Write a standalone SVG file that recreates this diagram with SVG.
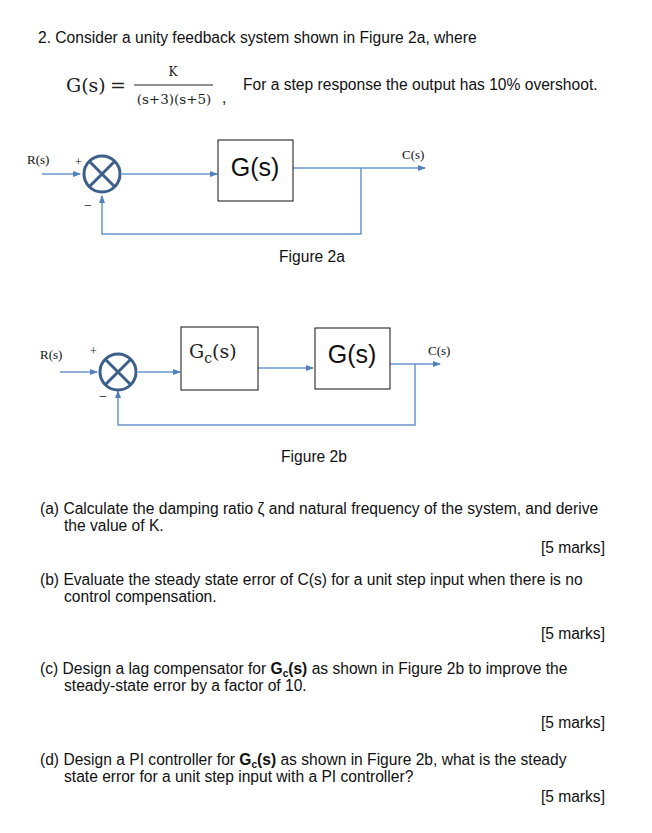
<svg xmlns="http://www.w3.org/2000/svg" width="652" height="833" viewBox="0 0 652 833">
<defs>
<marker id="ar" markerWidth="8" markerHeight="8" refX="7" refY="4" orient="auto" markerUnits="userSpaceOnUse"><path d="M0,1 L8,4 L0,7 Z" fill="#4F81BD"/></marker>
<style>
.t{font-family:"Liberation Sans",Arial,sans-serif;fill:#111}
.s{font-family:"Liberation Serif","Times New Roman",serif;fill:#111}
.m{font-family:"DejaVu Serif","Liberation Serif",serif;fill:#222}
.w{stroke:#6A96CB;stroke-width:1.5;fill:none}
.box{fill:#fff;stroke:#111;stroke-width:1}
.sum{fill:#fff;stroke:#3C5F8C;stroke-width:3}
</style>
</defs>
<rect width="652" height="833" fill="#fff"/>
<g font-size="15.6">
<text class="t" x="38" y="43">2.  Consider a unity feedback system shown in Figure 2a, where</text>
<text class="t" x="222" y="103">,</text>
<text class="t" x="243" y="90">For a step response the output has 10% overshoot.</text>
<text class="t" x="312" y="262" text-anchor="middle">Figure 2a</text>
<text class="t" x="314" y="462" text-anchor="middle">Figure 2b</text>
<text class="t" x="40" y="514">(a) Calculate the damping ratio ζ and natural frequency of the system, and derive</text>
<text class="t" x="64" y="531">the value of K.</text>
<text class="t" x="605" y="553" text-anchor="end">[5 marks]</text>
<text class="t" x="40" y="585">(b) Evaluate the steady state error of C(s) for a unit step input when there is no</text>
<text class="t" x="64" y="602">control compensation.</text>
<text class="t" x="605" y="639" text-anchor="end">[5 marks]</text>
<text class="t" x="40" y="674">(c) Design a lag compensator for <tspan font-weight="bold">G</tspan><tspan font-weight="bold" font-size="10" dy="3">c</tspan><tspan font-weight="bold" dy="-3">(s)</tspan> as shown in Figure 2b to improve the</text>
<text class="t" x="64" y="691">steady-state error by a factor of 10.</text>
<text class="t" x="605" y="728" text-anchor="end">[5 marks]</text>
<text class="t" x="40" y="765">(d) Design a PI controller for <tspan font-weight="bold">G</tspan><tspan font-weight="bold" font-size="10" dy="3">c</tspan><tspan font-weight="bold" dy="-3">(s)</tspan> as shown in Figure 2b, what is the steady</text>
<text class="t" x="64" y="782">state error for a unit step input with a PI controller?</text>
<text class="t" x="605" y="802" text-anchor="end">[5 marks]</text>
</g>
<text class="m" x="66" y="92" font-size="19">G(s)</text>
<text class="m" x="110" y="92" font-size="19">=</text>
<text class="m" x="173" y="76" font-size="12" text-anchor="middle">K</text>
<line x1="134" y1="85" x2="213" y2="85" stroke="#222" stroke-width="1"/>
<text class="m" x="174" y="104" font-size="13.5" text-anchor="middle">(s+3)(s+5)</text>

<g id="connectors">
<path class="w" d="M42,174 H80" marker-end="url(#ar)"/>
<path class="w" d="M122,174 H217" marker-end="url(#ar)"/>
<path class="w" d="M293,168 H425" marker-end="url(#ar)"/>
<path class="w" d="M361,168 V234 H102 V196" marker-end="url(#ar)"/>
<path class="w" d="M60,372 H97" marker-end="url(#ar)"/>
<path class="w" d="M138,372 H180" marker-end="url(#ar)"/>
<path class="w" d="M258,368 H313" marker-end="url(#ar)"/>
<path class="w" d="M390,364 H440" marker-end="url(#ar)"/>
<path class="w" d="M415,364 V425 H118 V391" marker-end="url(#ar)"/>
</g>

<g id="sum1"><circle class="sum" cx="102" cy="174" r="18"/><path d="M89,161 L115,187 M115,161 L89,187" stroke="#3C5F8C" stroke-width="3"/>
<text class="s" x="75" y="166" font-size="12">+</text><text class="s" x="84" y="210" font-size="14">−</text></g>
<g id="G1"><rect class="box" x="218" y="140" width="75" height="61"/><text class="t" x="255" y="176" font-size="25" text-anchor="middle">G(s)</text></g>
<text class="s" x="27" y="164" font-size="13">R(s)</text>
<text class="s" x="402" y="159" font-size="13">C(s)</text>

<g id="sum2"><circle class="sum" cx="118" cy="372" r="18"/><path d="M105,359 L131,385 M131,359 L105,385" stroke="#3C5F8C" stroke-width="3"/>
<text class="s" x="90" y="355" font-size="12">+</text><text class="s" x="99" y="401" font-size="14">−</text></g>
<g id="Gc"><rect class="box" x="181" y="327" width="77" height="63"/><text class="m" x="189" y="358" font-size="19">G<tspan font-size="14" dy="5">c</tspan><tspan dy="-5">(s)</tspan></text></g>
<g id="G2"><rect class="box" x="315" y="328" width="75" height="61"/><text class="t" x="352" y="363" font-size="25" text-anchor="middle">G(s)</text></g>
<text class="s" x="40" y="359" font-size="13">R(s)</text>
<text class="s" x="428" y="355" font-size="13">C(s)</text>
</svg>
